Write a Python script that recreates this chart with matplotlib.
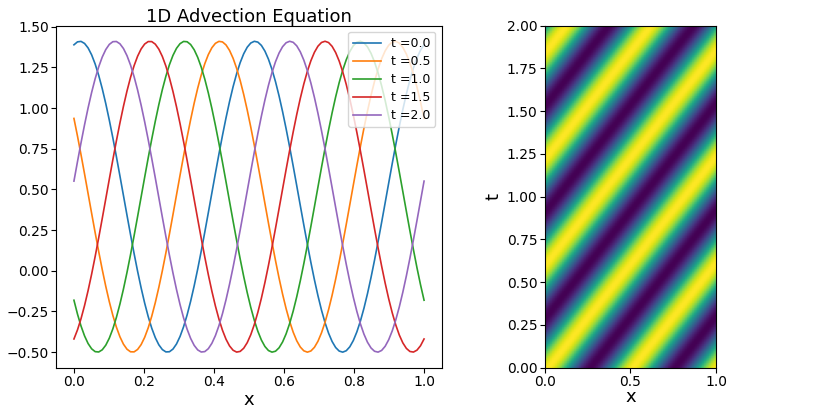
import numpy as np
import matplotlib
matplotlib.use("Agg")
import matplotlib.pyplot as plt

# snapshot times shown in the legend
times = [0.0, 0.5, 1.0, 1.5, 2.0]
labels = [f"t ={t}" for t in times]

# travelling wave u(x, t) = offset + amp * cos(2*pi*(x - phase - speed*t) / wavelength)
# parameters (peaks ~1.41, troughs ~-0.50, two crests per unit x)
offset = 0.455
amp = 0.955
wavelength = 0.5
phase = 0.017
speed = 0.8

x_range = (0.0, 1.0)
t_range = (0.0, 2.0)
n_x, n_t = 100, 200


def wave(x, t):
    return offset + amp * np.cos(2 * np.pi * (x - phase - speed * t) / wavelength)


x = np.linspace(*x_range, n_x)
t = np.linspace(*t_range, n_t)
X, T = np.meshgrid(x, t)
U = wave(X, T)

fig = plt.figure(figsize=(8.3, 4.15), dpi=100)
ax1 = fig.add_axes([0.068, 0.114, 0.464, 0.824])
ax2 = fig.add_axes([0.6566, 0.114, 0.206, 0.824])

for ti, lab in zip(times, labels):
    ax1.plot(x, wave(x, ti), lw=1.2, label=lab)
ax1.set_title("1D Advection Equation", fontsize=13, pad=3)
ax1.set_xlabel("x", fontsize=13, labelpad=1)
ax1.tick_params(labelsize=10, pad=2)
ax1.set_yticks(np.arange(-0.5, 1.51, 0.25))
ax1.legend(loc="upper right", fontsize=9, labelspacing=0.4, handlelength=2.2)

ax2.imshow(U, origin="lower", extent=[*x_range, *t_range], aspect="auto", cmap="viridis")
ax2.set_xticks([0.0, 0.5, 1.0])
ax2.set_yticks(np.arange(0, 2.01, 0.25))
ax2.set_xlabel("x", fontsize=13, labelpad=-1)
ax2.set_ylabel("t", fontsize=13, labelpad=3)
ax2.tick_params(labelsize=10, pad=2)

fig.savefig("out.png", dpi=100)
